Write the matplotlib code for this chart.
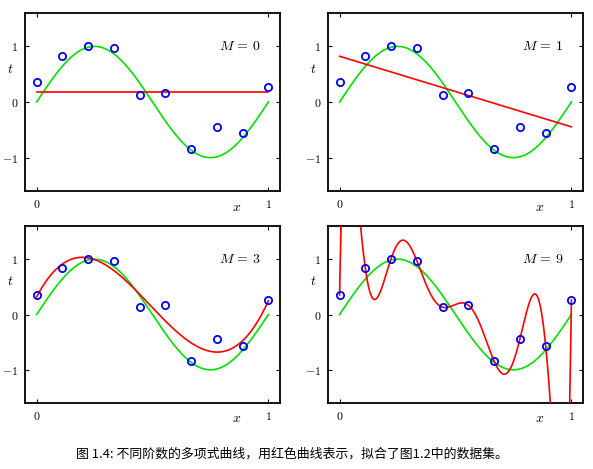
import numpy as np
import matplotlib
matplotlib.use("Agg")
import matplotlib.pyplot as plt

plt.rcParams['mathtext.fontset'] = 'cm'
plt.rcParams['font.family'] = ['DejaVu Serif']

# training data
x_data = [0.0, 1/9, 2/9, 3/9, 4/9, 5/9, 6/9, 7/9, 8/9, 1.0]
t_data = [0.353, 0.832, 1.012, 0.970, 0.132, 0.168, -0.844, -0.443, -0.563, 0.263]

orders = [0, 1, 3, 9]
caption = "图 1.4: 不同阶数的多项式曲线，用红色曲线表示，拟合了图1.2中的数据集。"

W, H = 593, 469
fig = plt.figure(figsize=(W / 100, H / 100), dpi=100)

# axes boxes in pixels: left, top, right, bottom
boxes = [(25, 13, 280, 191), (328, 13, 583, 191),
         (25, 226, 280, 403), (328, 226, 583, 403)]

xs = np.linspace(0, 1, 600)
x_arr = np.array(x_data)
t_arr = np.array(t_data)

for (l, t, r, b), M in zip(boxes, orders):
    ax = fig.add_axes([l / W, 1 - b / H, (r - l) / W, (b - t) / H])

    # true curve
    ax.plot(xs, np.sin(2 * np.pi * xs), color='#00e000', lw=1.2, zorder=2)

    # least squares polynomial fit of order M
    coef = np.polyfit(x_arr, t_arr, M)
    ax.plot(xs, np.polyval(coef, xs), color='red', lw=1.2, zorder=3)

    ax.plot(x_arr, t_arr, 'o', mfc='none', mec='blue', mew=1.3, ms=5.2, zorder=4)

    ax.set_xlim(-0.05, 1.05)
    ax.set_ylim(-1.6, 1.6)
    ax.set_xticks([0, 1])
    ax.set_xticklabels(['$0$', '$1$'])
    ax.set_yticks([-1, 0, 1])
    ax.set_yticklabels(['$-1$', '$0$', '$1$'])
    ax.tick_params(direction='in', length=3, width=0.8, top=True, right=True,
                   labelsize=8.5)
    ax.tick_params(axis='x', pad=5)
    ax.tick_params(axis='y', pad=5)
    for sp in ax.spines.values():
        sp.set_linewidth(1.3)

    ax.text(0.876, 1.0, r'$M\,=\,%d$' % M, fontsize=10, ha='center', va='center')
    ax.text(0.865, -1.88, '$x$', fontsize=10, ha='center', va='center',
            clip_on=False)
    ax.text(-0.115, 0.6, '$t$', fontsize=10, ha='center', va='center',
            clip_on=False)

fig.text(291.5 / W, 1 - 454 / H, caption, fontsize=9.3, ha='center', va='center',
         family=['Noto Sans CJK SC', 'DejaVu Sans'])

fig.savefig('out.png', dpi=100)
